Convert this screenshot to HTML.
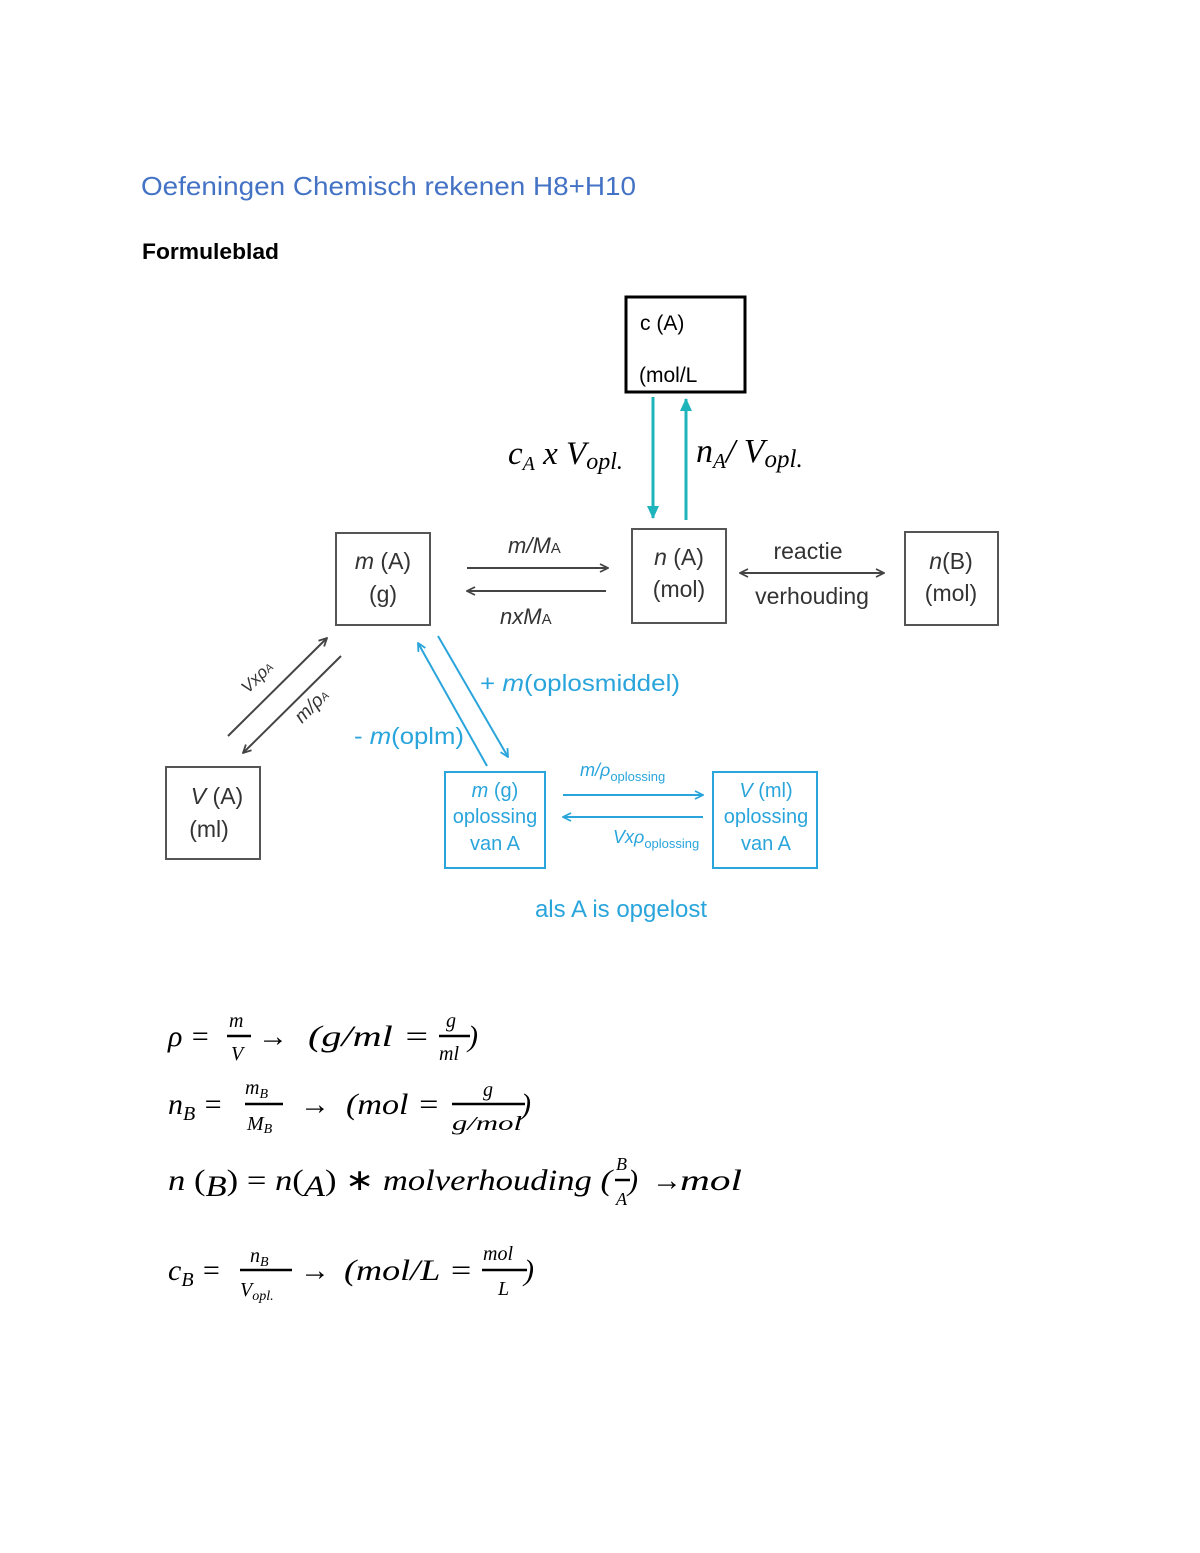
<!DOCTYPE html>
<html><head><meta charset="utf-8"><style>
body{margin:0;background:#fff;}
svg{display:block}
.s{font-family:"Liberation Sans",sans-serif;}
.m{font-family:"Liberation Serif",serif;font-style:italic;}
</style></head><body>
<svg width="1200" height="1553" viewBox="0 0 1200 1553" xmlns="http://www.w3.org/2000/svg">
<defs>
<marker id="ak" markerWidth="10" markerHeight="10" refX="9" refY="5" orient="auto" markerUnits="userSpaceOnUse"><path d="M1,1 L9,5 L1,9" fill="none" stroke="#444" stroke-width="1.8"/></marker>
<marker id="ab" markerWidth="10" markerHeight="10" refX="9" refY="5" orient="auto" markerUnits="userSpaceOnUse"><path d="M1,1 L9,5 L1,9" fill="none" stroke="#2aa5dc" stroke-width="1.8"/></marker>
<marker id="at" markerWidth="14" markerHeight="14" refX="12" refY="7" orient="auto" markerUnits="userSpaceOnUse"><path d="M0,1 L13,7 L0,13 Z" fill="#1eb4bb"/></marker>
</defs>
<text x="141" y="195" class="s" font-size="26" fill="#4472c4" textLength="495" lengthAdjust="spacingAndGlyphs">Oefeningen Chemisch rekenen H8+H10</text>
<text x="142" y="259" class="s" font-size="22" font-weight="bold" fill="#000" textLength="137" lengthAdjust="spacingAndGlyphs">Formuleblad</text>

<rect x="626" y="297" width="119" height="95" fill="none" stroke="#000" stroke-width="3"/>
<text x="640" y="330" class="s" font-size="21">c (A)</text>
<text x="639" y="382" class="s" font-size="21">(mol/L</text>
<line x1="653" y1="397" x2="653" y2="518" stroke="#1eb4bb" stroke-width="3" marker-end="url(#at)"/>
<line x1="686" y1="520" x2="686" y2="399" stroke="#1eb4bb" stroke-width="3" marker-end="url(#at)"/>
<text x="508" y="464" class="m" font-size="33">c<tspan font-size="20" dy="6">A</tspan><tspan dy="-6"> x V</tspan><tspan font-size="24" dy="5">opl.</tspan></text>
<text x="696" y="462" class="m" font-size="34">n<tspan font-size="21" dy="6">A</tspan><tspan dy="-6">/ V</tspan><tspan font-size="25" dy="5">opl.</tspan></text>

<g fill="none" stroke="#555" stroke-width="2">
<rect x="336" y="533" width="94" height="92"/>
<rect x="632" y="529" width="94" height="94"/>
<rect x="905" y="532" width="93" height="93"/>
<rect x="166" y="767" width="94" height="92"/>
</g>
<g class="s" font-size="23" fill="#333" text-anchor="middle">
<text x="383" y="569"><tspan font-style="italic">m</tspan> (A)</text>
<text x="383" y="602">(g)</text>
<text x="679" y="565"><tspan font-style="italic">n</tspan> (A)</text>
<text x="679" y="597">(mol)</text>
<text x="951" y="569"><tspan font-style="italic">n</tspan>(B)</text>
<text x="951" y="601">(mol)</text>
<text x="217" y="804"><tspan font-style="italic">V</tspan> (A)</text>
<text x="209" y="837">(ml)</text>
<text x="808" y="559">reactie</text>
<text x="812" y="604">verhouding</text>
</g>
<g class="s" font-size="22" fill="#333" font-style="italic">
<text x="508" y="553">m/M<tspan font-size="15" font-style="normal">A</tspan></text>
<text x="500" y="624">nxM<tspan font-size="15" font-style="normal">A</tspan></text>
</g>
<g stroke="#444" stroke-width="2">
<line x1="467" y1="568" x2="608" y2="568" marker-end="url(#ak)"/>
<line x1="606" y1="591" x2="467" y2="591" marker-end="url(#ak)"/>
<line x1="760" y1="573" x2="884" y2="573" marker-end="url(#ak)"/>
<line x1="864" y1="573" x2="740" y2="573" marker-end="url(#ak)"/>
<line x1="228" y1="736" x2="327" y2="638" marker-end="url(#ak)"/>
<line x1="341" y1="656" x2="243" y2="753" marker-end="url(#ak)"/>
</g>
<text transform="translate(248,694) rotate(-45)" class="s" font-size="17" font-style="italic" fill="#333">Vxρ<tspan font-size="11">A</tspan></text>
<text transform="translate(302,724) rotate(-45)" class="s" font-size="19" font-style="italic" fill="#333">m/ρ<tspan font-size="11">A</tspan></text>

<g stroke="#2aa5dc" stroke-width="2">
<line x1="487" y1="766" x2="418" y2="643" marker-end="url(#ab)"/>
<line x1="438" y1="636" x2="508" y2="757" marker-end="url(#ab)"/>
<line x1="563" y1="795" x2="703" y2="795" marker-end="url(#ab)"/>
<line x1="703" y1="817" x2="563" y2="817" marker-end="url(#ab)"/>
<rect x="445" y="772" width="100" height="96" fill="none"/>
<rect x="713" y="772" width="104" height="96" fill="none"/>
</g>
<g class="s" fill="#2aa5dc">
<text x="480" y="691" font-size="23" textLength="200" lengthAdjust="spacingAndGlyphs">+ <tspan font-style="italic">m</tspan>(oplosmiddel)</text>
<text x="354" y="744" font-size="23" textLength="110" lengthAdjust="spacingAndGlyphs">- <tspan font-style="italic">m</tspan>(oplm)</text>
<g font-size="20" text-anchor="middle">
<text x="495" y="797"><tspan font-style="italic">m</tspan> (g)</text>
<text x="495" y="823">oplossing</text>
<text x="495" y="850">van A</text>
<text x="766" y="797"><tspan font-style="italic">V</tspan> (ml)</text>
<text x="766" y="823">oplossing</text>
<text x="766" y="850">van A</text>
</g>
<text x="580" y="776" font-size="18" font-style="italic">m/ρ<tspan font-size="13" font-style="normal" dy="5">oplossing</tspan></text>
<text x="613" y="843" font-size="18" font-style="italic">Vxρ<tspan font-size="13" font-style="normal" dy="5">oplossing</tspan></text>
<text x="621" y="917" font-size="24" text-anchor="middle">als A is opgelost</text>
</g>

<g class="m" font-size="30" fill="#000">
<text x="168" y="1046">ρ =</text>
<text x="229" y="1027" font-size="20">m</text>
<line x1="227" y1="1036" x2="251" y2="1036" stroke="#000" stroke-width="2.5"/>
<text x="231" y="1060" font-size="20">V</text>
<text x="258" y="1046" font-style="normal">→</text>
<text x="308" y="1046" textLength="122" lengthAdjust="spacingAndGlyphs">(g/ml  =</text>
<text x="446" y="1027" font-size="20">g</text>
<line x1="439" y1="1036" x2="470" y2="1036" stroke="#000" stroke-width="2.5"/>
<text x="439" y="1060" font-size="20">ml</text>
<text x="468" y="1046">)</text>

<text x="168" y="1114">n<tspan font-size="20" dy="6">B</tspan><tspan dy="-6"> =</tspan></text>
<text x="245" y="1094" font-size="20">m<tspan font-size="14" dy="4">B</tspan></text>
<line x1="245" y1="1104" x2="283" y2="1104" stroke="#000" stroke-width="2.5"/>
<text x="247" y="1130" font-size="20">M<tspan font-size="14" dy="3">B</tspan></text>
<text x="300" y="1114" font-style="normal">→</text>
<text x="346" y="1114" textLength="94" lengthAdjust="spacingAndGlyphs">(mol =</text>
<text x="483" y="1096" font-size="20">g</text>
<line x1="452" y1="1104" x2="525" y2="1104" stroke="#000" stroke-width="2.5"/>
<text x="452" y="1130" font-size="20" textLength="70" lengthAdjust="spacingAndGlyphs">g/mol</text>
<text x="521" y="1114">)</text>

<text x="168" y="1190" textLength="444" lengthAdjust="spacingAndGlyphs">n <tspan font-style="normal">(</tspan><tspan dy="6">B</tspan><tspan dy="-6" font-style="normal">) = </tspan>n<tspan font-style="normal">(</tspan><tspan dy="6">A</tspan><tspan dy="-6" font-style="normal">) ∗ </tspan>molverhouding (</text>
<text x="616" y="1170" font-size="18">B</text>
<line x1="615" y1="1180" x2="630" y2="1180" stroke="#000" stroke-width="2.5"/>
<text x="616" y="1205" font-size="18">A</text>
<text x="628" y="1190">)</text>
<text x="652" y="1190" font-style="normal">→</text>
<text x="680" y="1190" textLength="62" lengthAdjust="spacingAndGlyphs">mol</text>

<text x="168" y="1280">c<tspan font-size="20" dy="6">B</tspan><tspan dy="-6"> =</tspan></text>
<text x="250" y="1262" font-size="20">n<tspan font-size="14" dy="4">B</tspan></text>
<line x1="240" y1="1270" x2="292" y2="1270" stroke="#000" stroke-width="2.5"/>
<text x="240" y="1296" font-size="20">V<tspan font-size="14" dy="4">opl.</tspan></text>
<text x="300" y="1280" font-style="normal">→</text>
<text x="344" y="1280" textLength="129" lengthAdjust="spacingAndGlyphs">(mol/L =</text>
<text x="483" y="1260" font-size="20">mol</text>
<line x1="482" y1="1270" x2="527" y2="1270" stroke="#000" stroke-width="2.5"/>
<text x="498" y="1295" font-size="20">L</text>
<text x="524" y="1280">)</text>
</g>
</svg>
</body></html>
